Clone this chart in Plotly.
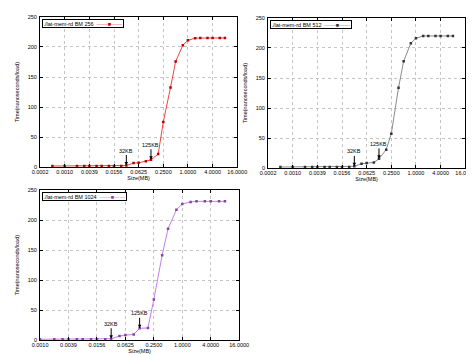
import math
import plotly.graph_objects as go

# Sizes in KB
sizes_kb = [0.5, 1, 2, 3, 4, 6, 8, 12, 16, 24, 32, 48, 64, 96, 128, 192, 256,
            384, 512, 768, 1024, 1536, 2048, 3072, 4096, 6144, 8192]
sizes_mb = [s / 1024 for s in sizes_kb]

bm256 = [2.2, 2.2, 2.2, 2.2, 2.2, 2.2, 2.2, 2.2, 2.2, 2.3, 3, 7, 7.6, 10, 12.5, 22,
         75.5, 132.6, 176, 203, 211, 214.7, 215, 215, 215, 215, 215]
bm512 = [2.2, 2.2, 2.2, 2.2, 2.2, 2.2, 2.2, 2.2, 2.2, 2.3, 3.2, 7.6, 8.7, 9.8, 15.7, 31,
         57.5, 134, 178, 208, 216, 220, 220, 220, 220, 220, 220]
bm1024 = [1.6, 1.6, 1.6, 1.6, 1.6, 1.6, 1.6, 1.6, 1.6, 1.8, 2.7, 7, 8.7, 9.8, 20, 20.6,
          68, 141.6, 185.5, 217, 226.7, 230, 231, 231, 231, 231, 231]

series_names = ["./lat-mem-rd BM 256", "./lat-mem-rd BM 512", "./lat-mem-rd BM 1024"]
tick_vals = [2 ** e for e in range(-12, 5, 2)]
tick_text = ["0.0002", "0.0010", "0.0039", "0.0156", "0.0625", "0.2500", "1.0000", "4.0000", "16.0000"]
y_ticks = [0, 50, 100, 150, 200, 250]

annot_sizes_kb = [32, 128]
annot_labels = ["32KB", "125KB"]

W, H = 474, 355
def px(x0, x1):
    return [x0 / W, x1 / W]
def py(y0, y1):
    return [1 - y1 / H, 1 - y0 / H]

panels = [
    dict(data=bm256, name=series_names[0], line="#ee4444", mk="#bb0000",
         xd=px(25, 230), yd=py(6, 159), xmin=-12),
    dict(data=bm512, name=series_names[1], line="#8a8a8a", mk="#333333",
         xd=px(262, 467), yd=py(7, 160), xmin=-12),
    dict(data=bm1024, name=series_names[2], line="#c47fe0", mk="#8a3fb0",
         xd=px(25, 232), yd=py(182, 335), xmin=-10),
]

FONT = "Liberation Sans"
FS = 5.5
fig = go.Figure()
annotations = []
for i, p in enumerate(panels):
    n = "" if i == 0 else str(i + 1)
    xa, ya = "x" + n, "y" + n
    fig.add_trace(go.Scatter(
        x=sizes_mb, y=p["data"], mode="lines+markers", name=p["name"],
        line=dict(color=p["line"], width=1),
        marker=dict(color=p["mk"], size=2.5, symbol="square"),
        xaxis=xa, yaxis=ya, showlegend=False))
    axis_common = dict(showline=True, mirror="ticks", linecolor="black", linewidth=1,
                       ticks="inside", ticklen=3, tickcolor="black", tickangle=0,
                       showgrid=True, gridcolor="#c4c4c4", griddash="dot", gridwidth=1,
                       zeroline=False, tickfont=dict(family=FONT, size=FS, color="black"))
    fig.update_layout(**{
        "xaxis" + n: dict(axis_common, type="log", domain=p["xd"], anchor=ya,
                          range=[p["xmin"] * math.log10(2), 4 * math.log10(2)],
                          tickvals=tick_vals, ticktext=tick_text, ticklabelstandoff=-1,
                          title=dict(text="Size(MB)", font=dict(family=FONT, size=FS, color="black"),
                                     standoff=0)),
        "yaxis" + n: dict(axis_common, domain=p["yd"], anchor=xa, range=[0, 250],
                          tickvals=y_ticks, ticklabelstandoff=1,
                          title=dict(text="Time(nanoseconds/load)",
                                     font=dict(family=FONT, size=FS, color="black"), standoff=7)),
    })
    # legend box (gnuplot style: title then sample)
    annotations.append(dict(
        x=p["xd"][0] + 2 / W, y=p["yd"][1] - 2 / H, xref="paper", yref="paper",
        xanchor="left", yanchor="top", showarrow=False, align="left",
        text=p["name"] + "  <span style='color:%s'>——</span><span style='color:%s'>■</span><span style='color:%s'>——</span>"
             % (p["line"], p["mk"], p["line"]),
        bgcolor="white", bordercolor="black", borderwidth=1, borderpad=0.5,
        font=dict(family=FONT, size=FS, color="black")))
    for kb, lab in zip(annot_sizes_kb, annot_labels):
        idx = sizes_kb.index(kb)
        annotations.append(dict(
            x=math.log10(sizes_mb[idx]), y=p["data"][idx], xref=xa, yref=ya,
            text=lab, showarrow=True, arrowhead=2, arrowsize=0.7, arrowwidth=1,
            arrowcolor="black", ax=0, ay=-15,
            font=dict(family=FONT, size=FS, color="black")))

fig.update_layout(width=W, height=H, margin=dict(l=0, r=0, t=0, b=0),
                  paper_bgcolor="white", plot_bgcolor="white",
                  annotations=annotations)
fig.write_html("out.html")
